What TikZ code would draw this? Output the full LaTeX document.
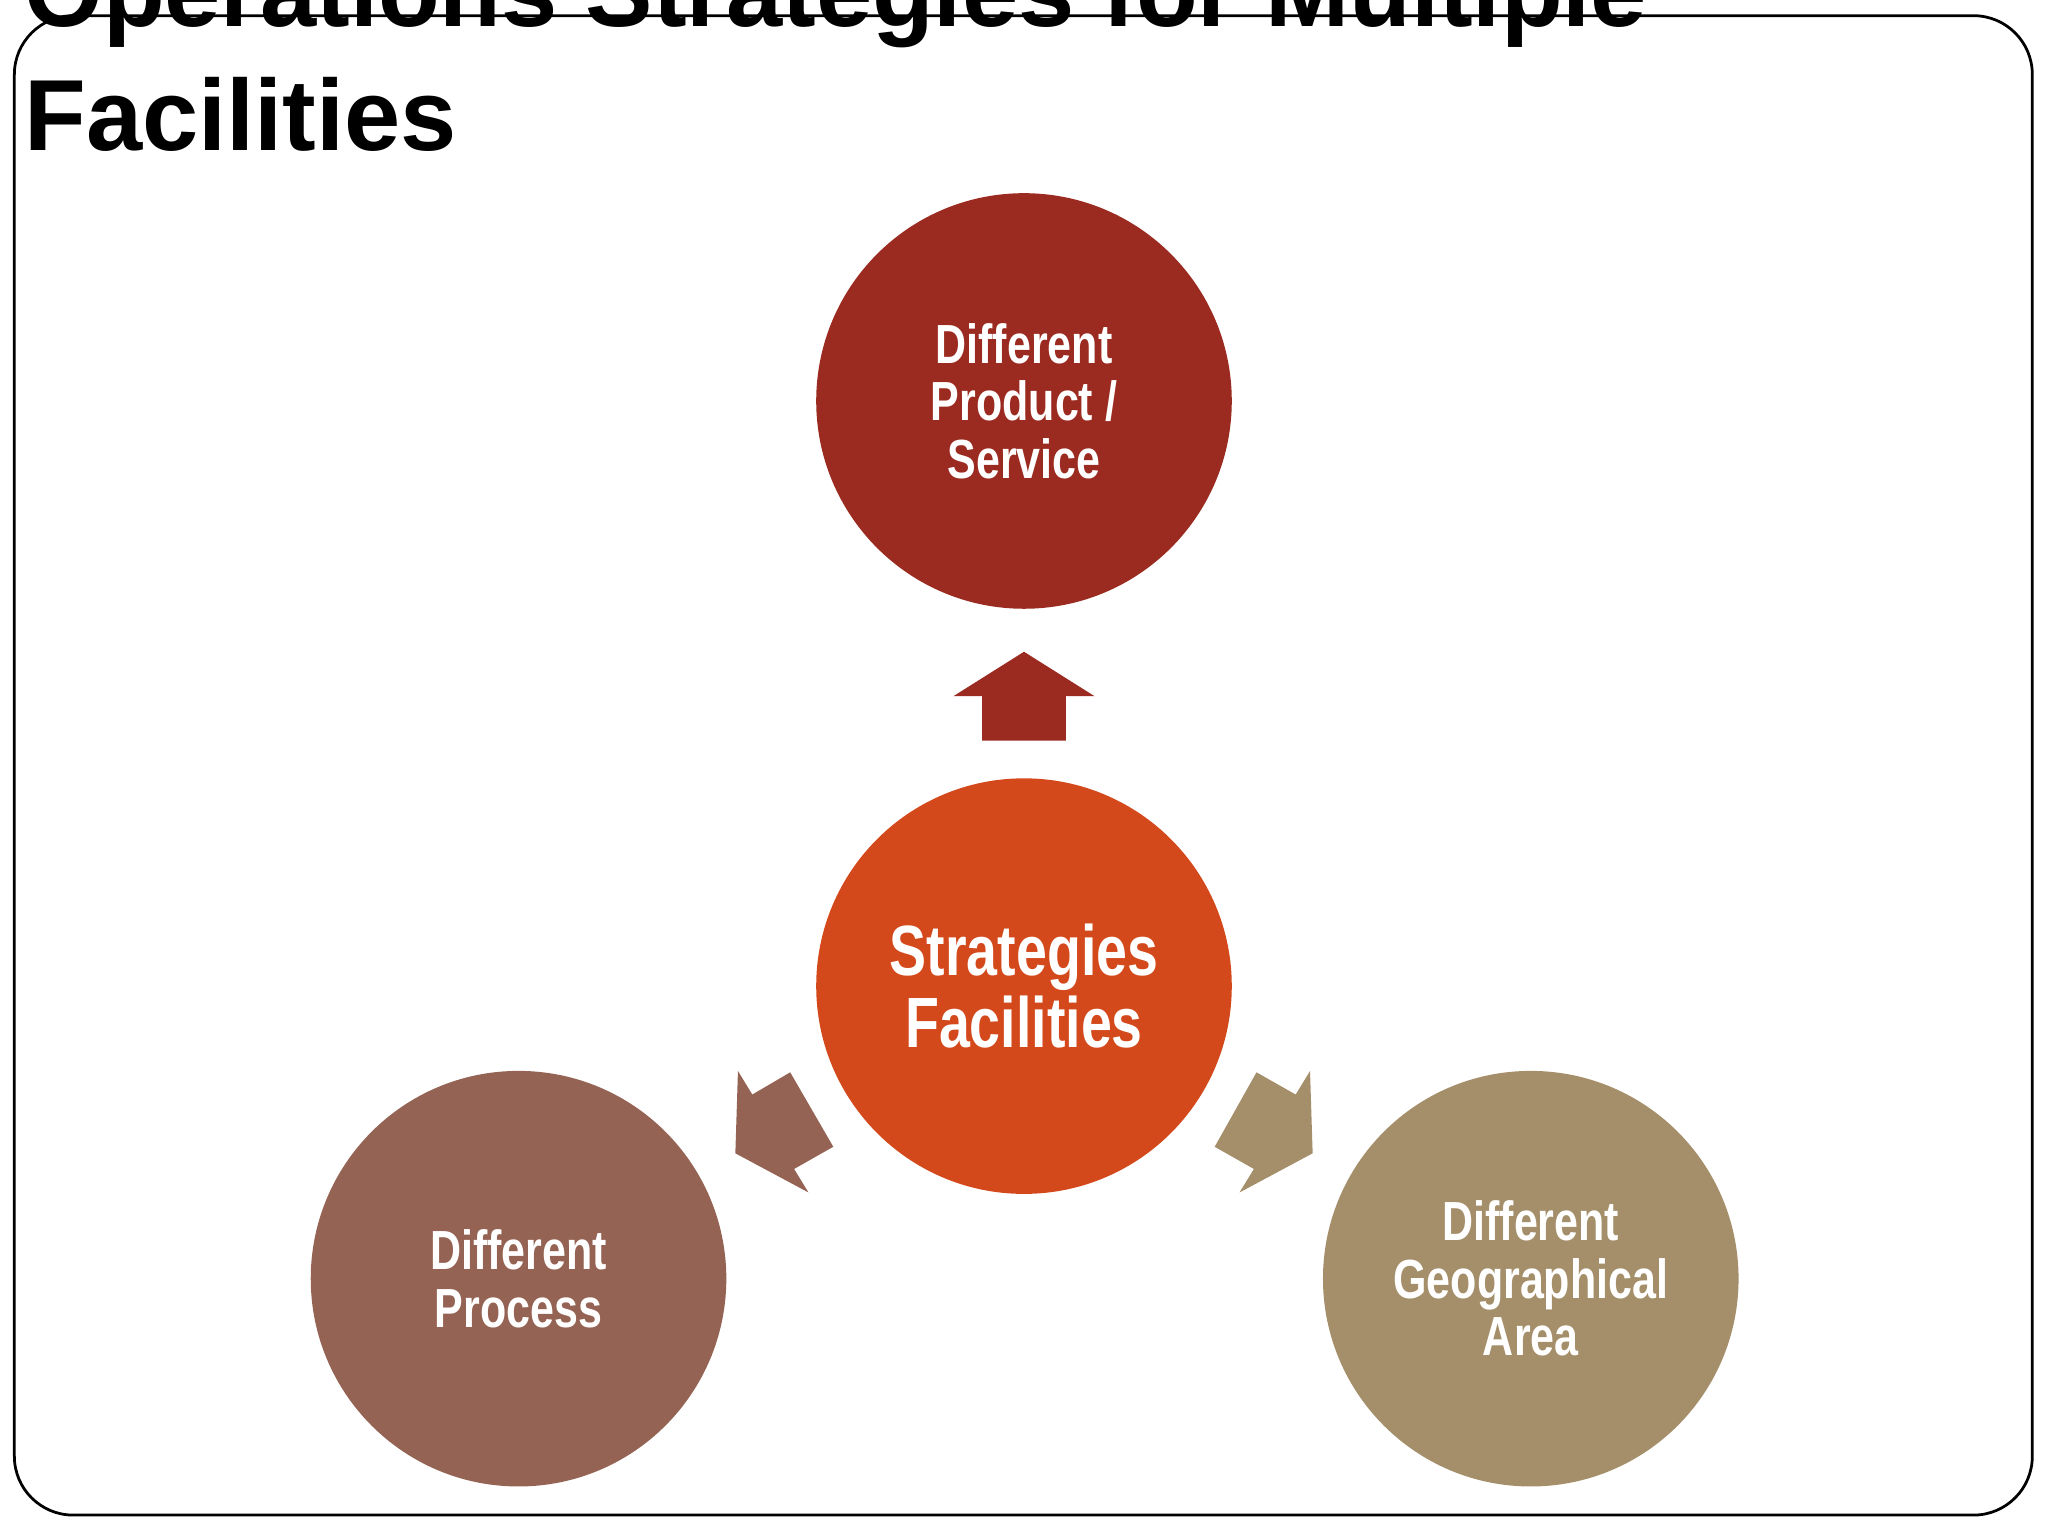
\documentclass[tikz,border=0pt]{standalone}
\usepackage{fontspec}
\setmainfont{Liberation Sans}
\newfontfamily\narrowfont[FakeStretch=0.78]{Liberation Sans}
\begin{document}
\begin{tikzpicture}[x=0.01cm,y=-0.01cm,
  circ/.style={circle,inner sep=0pt,minimum size=3.18cm,text=white,align=center,font=\narrowfont\bfseries\fontsize{12}{12.5}\selectfont}]
\useasboundingbox (0,0) rectangle (1568,1176);
\begin{scope}
\clip (0,0) rectangle (1568,1176);
\draw[line width=0.6pt,rounded corners=0.45cm] (11,12) rectangle (1556,1160);
\node[anchor=base west,font=\bfseries\fontsize{22}{22}\selectfont,inner sep=0pt] (t1) at (18,20) {Operations Strategies for Multiple};
\node[anchor=base west,font=\bfseries\fontsize{22}{22}\selectfont,inner sep=0pt] (t2) at (18,115) {Facilities};
\end{scope}
\definecolor{ctop}{HTML}{9B2B20}
\definecolor{cmid}{HTML}{D4491C}
\definecolor{cleft}{HTML}{956354}
\definecolor{cright}{HTML}{A48F6A}
\node[circ,fill=ctop] (top) at (784,307) {Different\\Product /\\Service};
\node[circ,fill=cmid,font=\narrowfont\bfseries\fontsize{15.5}{15.5}\selectfont] (mid) at (784,755) {Strategies\\Facilities};
\node[circ,fill=cleft] (left) at (397,979) {Different\\Process};
\node[circ,fill=cright] (right) at (1172,979) {Different\\Geographical\\Area};
\fill[ctop] (730,533)--(784,499)--(838,533)--(816,533)--(816,567)--(752,567)--(752,533)--cycle;
\fill[cleft] (605,821)--(638,878)--(608,895)--(619,913)--(563,883)--(565,820)--(576,838)--cycle;
\fill[cright] (962,821)--(930,878)--(960,895)--(949,913)--(1005,883)--(1003,820)--(992,838)--cycle;
\end{tikzpicture}
\end{document}
